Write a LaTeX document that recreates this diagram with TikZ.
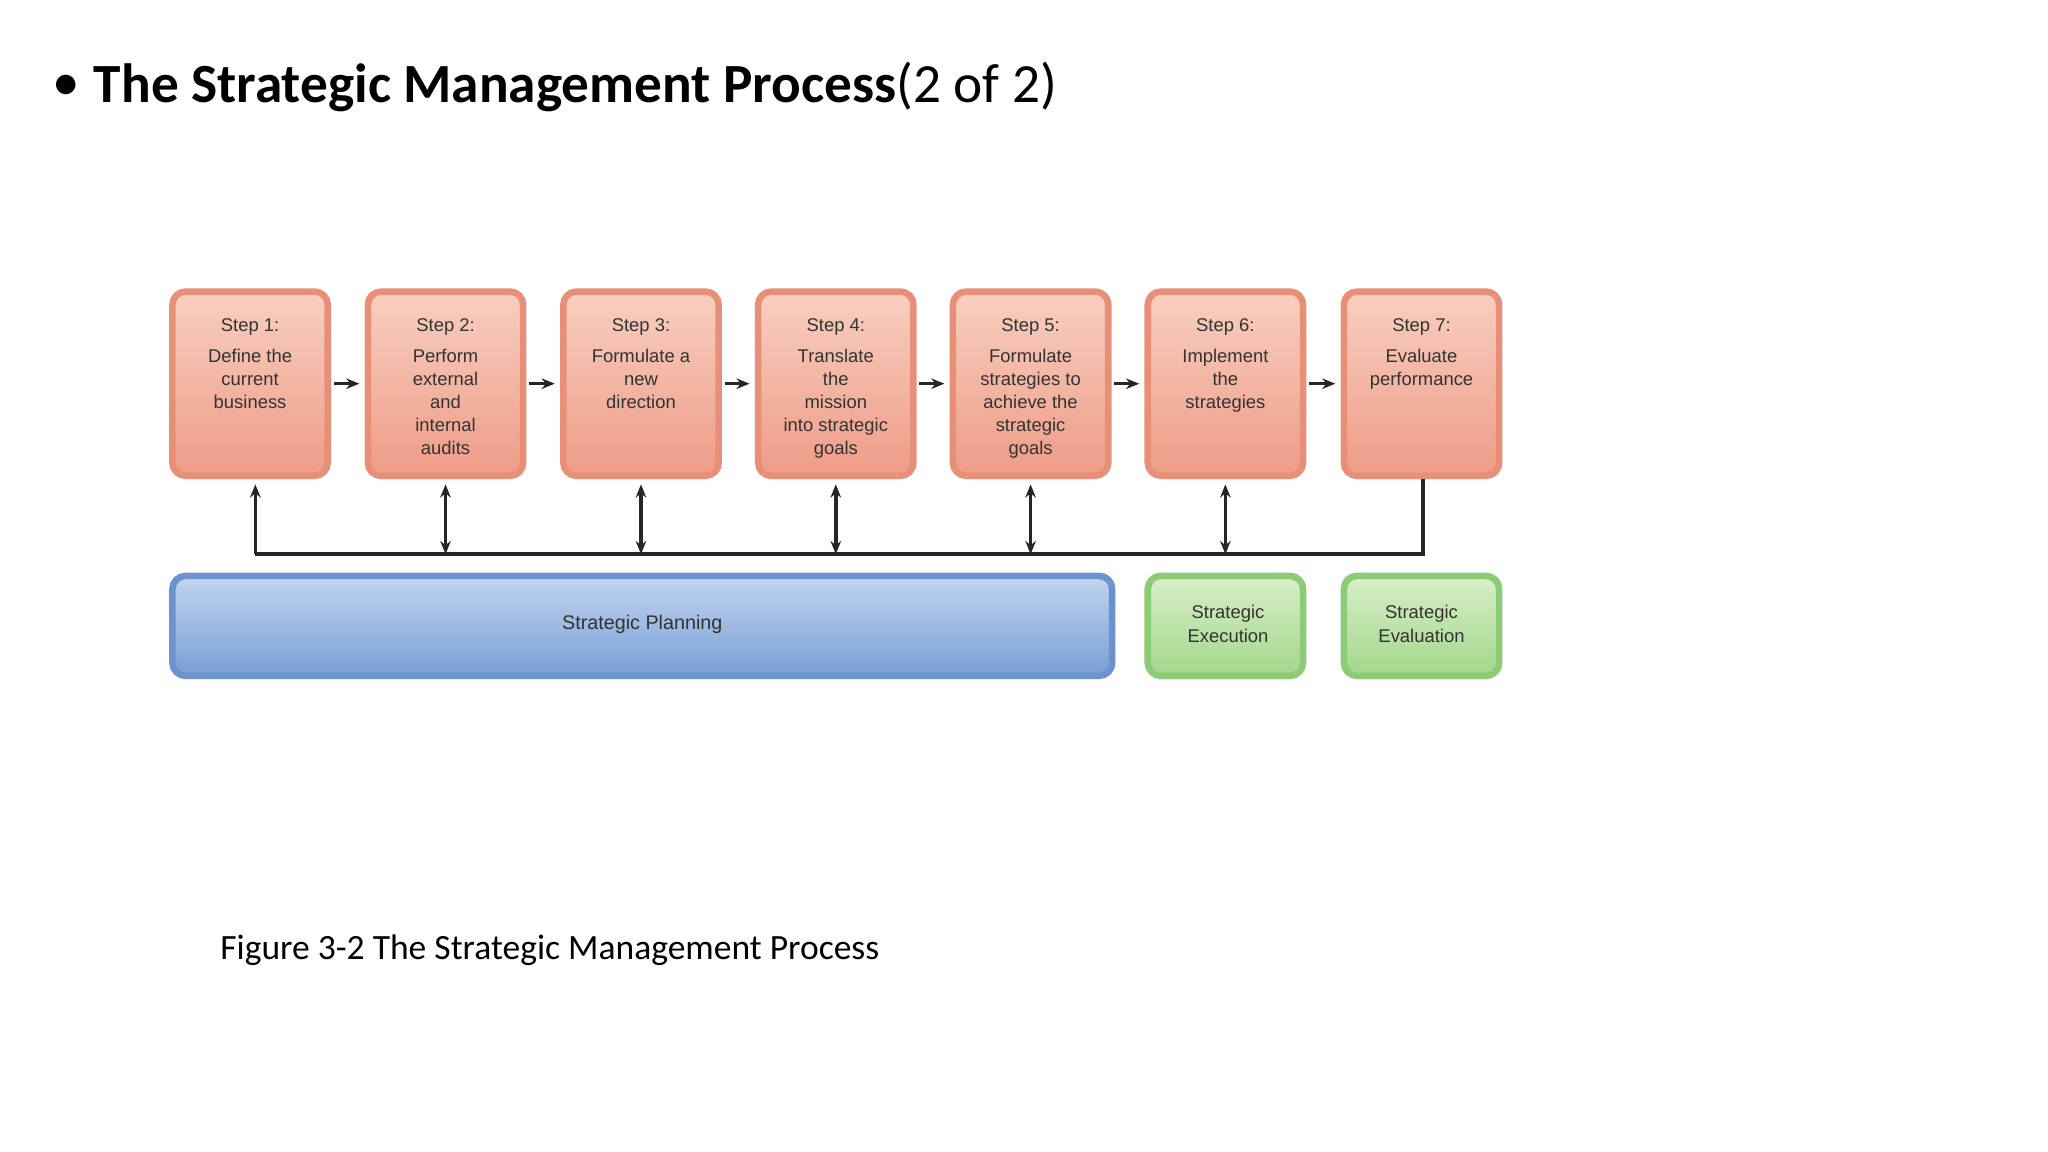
\documentclass[tikz,border=0pt]{standalone}
\usepackage{fontspec}
\setmainfont{Carlito}
\newfontfamily\boxfont{Liberation Sans}
\usetikzlibrary{arrows.meta}
\definecolor{salA}{HTML}{F8CFC0}
\definecolor{salB}{HTML}{EE9C87}
\definecolor{salD}{HTML}{E88F7A}
\definecolor{bluA}{HTML}{C3D5EF}
\definecolor{bluB}{HTML}{789ED6}
\definecolor{bluD}{HTML}{6C93CD}
\definecolor{grnA}{HTML}{D8EFC8}
\definecolor{grnB}{HTML}{A3D78B}
\definecolor{grnD}{HTML}{8DCB77}
\definecolor{txt}{HTML}{333333}
\tikzset{
  stepbox/.style={draw=salD, line width=2.5pt, rounded corners=5pt, top color=salA, bottom color=salB,
    minimum width=59pt, minimum height=70pt, anchor=north, inner sep=0pt},
  bluebox/.style={draw=bluD, line width=2.5pt, rounded corners=5pt, top color=bluA, bottom color=bluB,
    minimum width=357pt, minimum height=38pt, inner sep=0pt},
  greenbox/.style={draw=grnD, line width=2.5pt, rounded corners=5pt, top color=grnA, bottom color=grnB,
    minimum width=59pt, minimum height=38pt, inner sep=0pt},
  lbl/.style={font=\boxfont\fontsize{7}{8.75}\selectfont, text=txt, align=center, anchor=north},
  conn/.style={line width=1.3pt, draw=black!85},
  tip/.style={-{Stealth[length=5pt,width=4pt]}},
}
\begin{document}
\begin{tikzpicture}[x=0.5pt,y=-0.5pt]
\useasboundingbox (0,0) rectangle (1556,875);
\fill[white] (0,0) rectangle (1556,875);
% title
\node[anchor=base west, inner sep=0pt, font=\fontsize{21}{25}\selectfont] (title) at (71,78)
  {\textbf{The Strategic Management Process}(2 of 2)};
\node[anchor=base, inner sep=0pt, font=\fontsize{21}{25}\selectfont] (bul) at (50,76) {•};
% step boxes
\foreach \i/\x/\t in {
 1/190/{Define the\\current\\business},
 2/338.5/{Perform\\external\\and\\internal\\audits},
 3/487/{Formulate a\\new\\direction},
 4/635/{Translate\\the\\mission\\into strategic\\goals},
 5/783/{Formulate\\strategies to\\achieve the\\strategic\\goals},
 6/931/{Implement\\the\\strategies},
 7/1080/{Evaluate\\performance}}{
  \node[stepbox] (s\i) at (\x,219) {};
  \node[lbl] (h\i) at (\x,235) {Step \i:};
  \node[lbl] (t\i) at (\x,258) {\t};
}
% arrows between
\foreach \a/\b in {1/2,2/3,3/4,4/5,5/6,6/7}{
  \draw[conn,tip] ([xshift=1pt]s\a.east) -- ([xshift=-2pt]s\b.west);
}
% bus
\coordinate (b1) at (194,421);
\coordinate (b7) at (1081,421);
\draw[conn] ([xshift=0.5pt]s7.south) -- (b7) -- (b1);
\draw[conn,tip] (b1) -- ([xshift=2pt,yshift=-2pt]s1.south);
\foreach \i in {2,...,6}{
  \draw[conn,{Stealth[length=5pt,width=4pt]}-{Stealth[length=5pt,width=4pt]}] ([yshift=-2pt]s\i.south) -- (s\i.south |- b1);
}
% bottom boxes
\node[bluebox] (plan) at (488,475.5) {};
\node[font=\boxfont\fontsize{7.5}{9}\selectfont, text=txt] (planl) at (488,474) {Strategic Planning};
\node[greenbox] (exe) at (931,475.5) {};
\node[lbl, anchor=center] (exel) at (933,474) {Strategic\\Execution};
\node[greenbox] (eva) at (1080,475.5) {};
\node[lbl, anchor=center] (eval) at (1080,474) {Strategic\\Evaluation};
% caption
\node[anchor=west, inner sep=0pt, font=\fontsize{13.5}{16}\selectfont] (cap) at (167,722) {Figure 3-2 The Strategic Management Process};
\end{tikzpicture}
\end{document}
